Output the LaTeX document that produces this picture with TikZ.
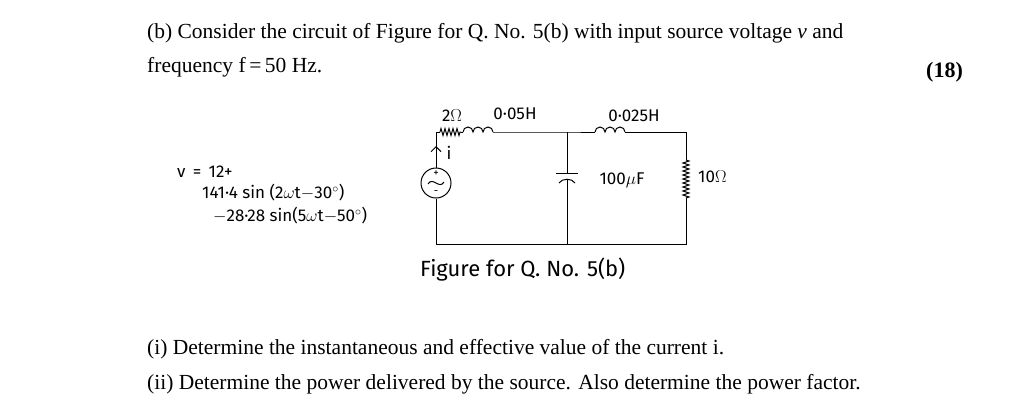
\documentclass[tikz,border=0pt]{standalone}
\usepackage{fontspec}
\setmainfont{Liberation Serif}
\usetikzlibrary{decorations.pathmorphing,arrows.meta,calc}
\newfontfamily\hw{Fira Sans}
\begin{document}
\begin{tikzpicture}[x=1pt,y=-1pt,
  wire/.style={line width=1pt},
  lbl/.style={font=\hw\fontsize{17}{18}\selectfont,inner sep=0pt},
  txt/.style={font=\fontsize{21.5}{24}\selectfont,anchor=west,inner sep=0pt},
  zig/.style={decorate,decoration={zigzag,segment length=4pt,amplitude=3.5pt}}]
\useasboundingbox (0,0) rectangle (1024,400);
\fill[white] (0,0) rectangle (1024,400);
\node[txt] (t1) at (147,33) {(b) Consider the circuit of Figure for Q. No. 5(b) with input source voltage \textit{v} and};
\node[txt] (t2) at (147,67) {frequency f\,=\,50 Hz.};
\node[txt,font=\bfseries\fontsize{22}{24}\selectfont] (t3) at (926,72) {(18)};
\node[txt] (t4) at (147,349) {(i) Determine the instantaneous and effective value of the current i.};
\node[txt] (t5) at (147,384) {(ii) Determine the power delivered by the source. Also determine the power factor.};
\coordinate (tl) at (436,132);
\coordinate (r1a) at (440,132);
\coordinate (r1b) at (461,132);
\coordinate (l1a) at (463,132);
\coordinate (l1b) at (493,132);
\coordinate (tm) at (567,132);
\coordinate (l2a) at (595,132);
\coordinate (l2b) at (625,132);
\coordinate (tr) at (686,132);
\coordinate (r2a) at (686,160);
\coordinate (r2b) at (686,198);
\coordinate (br) at (686,244);
\coordinate (bm) at (567,244);
\coordinate (bl) at (436,244);
\coordinate (c1) at (567,173);
\coordinate (c2) at (567,179);
\node[circle,draw,line width=1pt,minimum size=30pt,inner sep=0pt] (src) at (436,183) {};
\draw[wire] (src.north) -- (tl) -- (r1a);
\draw[wire,zig] (r1a) -- (r1b);
\draw[wire] (r1b) -- (l1a);
\draw[wire] (l1a) arc (180:360:5) arc (180:360:5) arc (180:360:5);
\draw[wire] (l1b) -- (tm) -- (l2a);
\draw[wire] (l2a) arc (180:360:5) arc (180:360:5) arc (180:360:5);
\draw[wire] (l2b) -- (tr) -- (r2a);
\draw[wire,decorate,decoration={zigzag,segment length=4pt,amplitude=3pt}] (r2a) -- (r2b);
\draw[wire] (r2b) -- (br) -- (bl) -- (src.south);
\draw[wire] (tm) -- (c1); \draw[wire] (c2) -- (bm);
\draw[wire] ($(c1)+(-11,0)$) -- ($(c1)+(11,0)$);
\draw[wire] ($(c2)+(-8,4)$) .. controls ($(c2)+(-5,-1)$) and ($(c2)+(5,-1)$) .. ($(c2)+(8,4)$);
\draw[wire] ($(src.center)+(-8,1)$) .. controls ($(src.center)+(-3,-7)$) and ($(src.center)+(3,7)$) .. ($(src.center)+(8,-1)$);
\node[lbl,font=\hw\fontsize{11}{11}\selectfont] at (436,174) {+};
\node[lbl,font=\hw\fontsize{11}{11}\selectfont] at (436,193) {-};
\draw[wire,-{Straight Barb[length=5pt]}] (436,162) -- (436,146);
\node[lbl] (il) at (449,153) {i};
\node[lbl] (a) at (452,116) {2$\Omega$};
\node[lbl] (b) at (515,114) {0·05H};
\node[lbl] (c) at (634,116) {0·025H};
\node[lbl] (d) at (622,180) {100$\mu$F};
\node[lbl,anchor=west] (e) at (698,177) {10$\Omega$};
\node[lbl,anchor=west] (v1) at (177,172) {v\, =\, 12+};
\node[lbl,anchor=west] (v2) at (202,193) {141·4 sin (2$\omega$t$-$30$^\circ$)};
\node[lbl,anchor=west] (v3) at (213,216) {$-$28·28 sin(5$\omega$t$-$50$^\circ$)};
\node[lbl,font=\hw\fontsize{22}{24}\selectfont,anchor=west] (cap) at (420,270) {Figure for Q. No. 5(b)};
\end{tikzpicture}
\end{document}
